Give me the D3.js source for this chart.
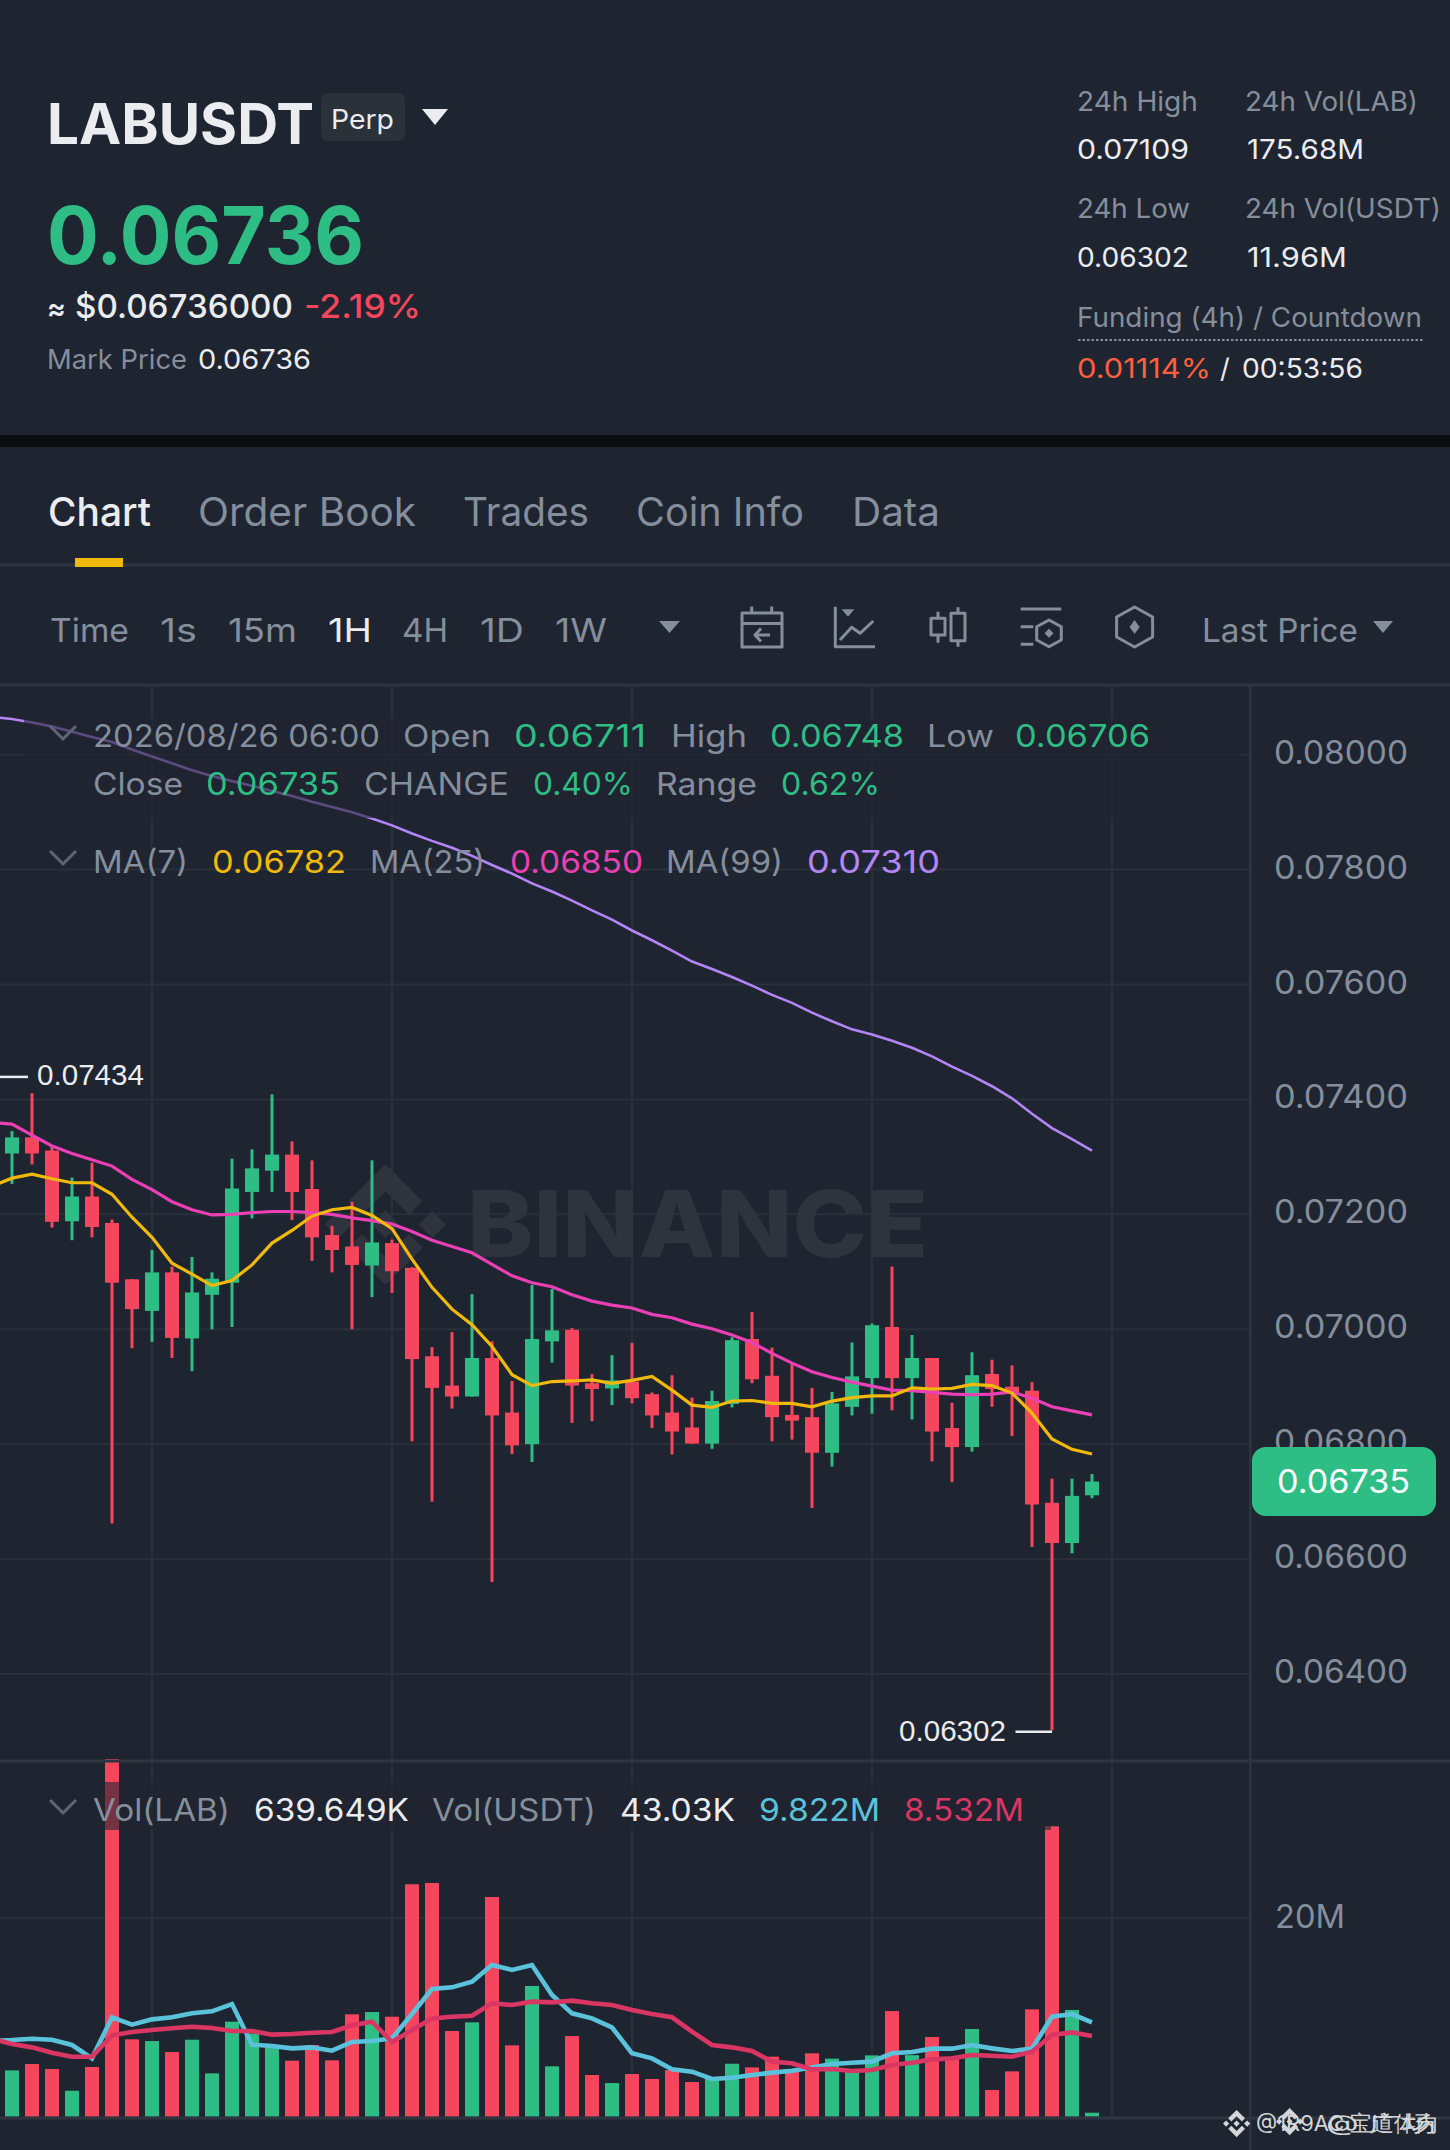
<!DOCTYPE html>
<html>
<head>
<meta charset="utf-8">
<title>LABUSDT</title>
<script src="https://cdn.jsdelivr.net/npm/d3@7"></script>
<style>
html, body { margin: 0; padding: 0; background: #1f2530; }
svg { display: block; }
text { font-family: Inter, "Noto Sans", sans-serif; }
.anno { font-family: "Liberation Sans", Arial, sans-serif; }
</style>
</head>
<body>
<div id="chart"></div>
<script>
// candles, oldest first
let candleOpen = [
	0.07306, 0.07334, 0.07311, 0.07188, 0.07231, 0.07185, 0.07087, 0.07032, 0.07099, 0.06984, 0.07060,
	0.07081, 0.07239, 0.07276, 0.07304, 0.07244, 0.07164, 0.07144, 0.07111, 0.07150, 0.07107, 0.06953,
	0.06902, 0.06883, 0.06950, 0.06855, 0.06800, 0.06979, 0.06999, 0.06906, 0.06897, 0.06909, 0.06887,
	0.06855, 0.06829, 0.06801, 0.06870, 0.06983, 0.06919, 0.06851, 0.06847, 0.06785, 0.06865, 0.06915,
	0.07004, 0.06915, 0.06950, 0.06828, 0.06795, 0.06922, 0.06900, 0.06893, 0.06698, 0.06628, 0.06711,
];
let candleHigh = [
	0.07345, 0.07411, 0.07318, 0.07264, 0.07290, 0.07191, 0.07087, 0.07138, 0.07109, 0.07126, 0.07099,
	0.07297, 0.07313, 0.07409, 0.07327, 0.07294, 0.07180, 0.07222, 0.07294, 0.07156, 0.07108, 0.06969,
	0.06995, 0.07061, 0.06979, 0.06910, 0.07077, 0.07070, 0.07002, 0.06922, 0.06955, 0.06976, 0.06890,
	0.06920, 0.06881, 0.06893, 0.06986, 0.07030, 0.06968, 0.06941, 0.06898, 0.06891, 0.06977, 0.07010,
	0.07109, 0.06990, 0.06950, 0.06872, 0.06960, 0.06947, 0.06937, 0.06908, 0.06740, 0.06740, 0.06748,
];
let candleLow = [
	0.07253, 0.07287, 0.07177, 0.07155, 0.07160, 0.06662, 0.06967, 0.06978, 0.06950, 0.06927, 0.07000,
	0.07004, 0.07193, 0.07239, 0.07190, 0.07119, 0.07099, 0.07000, 0.07056, 0.07063, 0.06805, 0.06700,
	0.06862, 0.06883, 0.06560, 0.06783, 0.06769, 0.06942, 0.06837, 0.06840, 0.06868, 0.06871, 0.06828,
	0.06782, 0.06801, 0.06792, 0.06864, 0.06906, 0.06805, 0.06808, 0.06689, 0.06761, 0.06850, 0.06853,
	0.06859, 0.06843, 0.06770, 0.06734, 0.06787, 0.06865, 0.06814, 0.06621, 0.06302, 0.06610, 0.06706,
];
let candleClose = [
	0.07334, 0.07306, 0.07187, 0.07231, 0.07178, 0.07081, 0.07035, 0.07099, 0.06985, 0.07064, 0.07088,
	0.07245, 0.07280, 0.07304, 0.07239, 0.07160, 0.07138, 0.07112, 0.07151, 0.07101, 0.06948, 0.06898,
	0.06883, 0.06950, 0.06850, 0.06798, 0.06983, 0.06998, 0.06902, 0.06896, 0.06911, 0.06880, 0.06850,
	0.06822, 0.06801, 0.06875, 0.06981, 0.06913, 0.06847, 0.06841, 0.06785, 0.06871, 0.06918, 0.07007,
	0.06915, 0.06950, 0.06822, 0.06795, 0.06920, 0.06896, 0.06890, 0.06695, 0.06628, 0.06710, 0.06735,
];

// volume in millions
let volume = [
	4.67, 5.31, 4.81, 2.62, 5.01, 36.06, 7.80, 7.63, 6.52, 7.76, 4.37,
	9.58, 8.40, 7.06, 5.65, 7.23, 5.68, 10.32, 10.55, 10.08, 23.43, 23.56,
	8.64, 9.51, 22.15, 7.19, 13.18, 5.08, 8.13, 4.20, 3.39, 4.30, 3.80,
	4.71, 3.50, 3.87, 5.34, 4.97, 6.05, 4.71, 6.39, 5.85, 4.54, 6.18,
	10.65, 6.20, 8.03, 5.88, 8.84, 2.69, 4.57, 10.82, 29.27, 10.76, 0.40,
];

// moving averages start one candle left of the picture
let ma7 = [
	0.07249, 0.07263, 0.07270, 0.07262, 0.07255, 0.07255, 0.07235, 0.07195, 0.07160, 0.07115, 0.07096, 0.07076,
	0.07085, 0.07112, 0.07150, 0.07172, 0.07197, 0.07208, 0.07212, 0.07198, 0.07175, 0.07122, 0.07073,
	0.07035, 0.07008, 0.06970, 0.06921, 0.06902, 0.06909, 0.06910, 0.06912, 0.06906, 0.06911, 0.06918,
	0.06894, 0.06868, 0.06864, 0.06875, 0.06876, 0.06871, 0.06871, 0.06865, 0.06875, 0.06881, 0.06884,
	0.06884, 0.06898, 0.06896, 0.06897, 0.06904, 0.06902, 0.06889, 0.06854, 0.06809, 0.06791, 0.06783,
];
let ma25 = [
	0.07360, 0.07357, 0.07338, 0.07319, 0.07306, 0.07295, 0.07284, 0.07261, 0.07243, 0.07222, 0.07208, 0.07199,
	0.07200, 0.07203, 0.07205, 0.07205, 0.07203, 0.07200, 0.07194, 0.07189, 0.07183, 0.07170, 0.07155,
	0.07144, 0.07133, 0.07113, 0.07093, 0.07081, 0.07074, 0.07060, 0.07049, 0.07042, 0.07037, 0.07026,
	0.07020, 0.07009, 0.07001, 0.06990, 0.06977, 0.06958, 0.06941, 0.06926, 0.06916, 0.06908, 0.06901,
	0.06894, 0.06893, 0.06890, 0.06887, 0.06886, 0.06887, 0.06891, 0.06880, 0.06865, 0.06858, 0.06851,
];
let ma99 = [
	0.08066, 0.08062, 0.08056, 0.08049, 0.08040, 0.08031, 0.08022, 0.08009, 0.07997, 0.07985, 0.07973, 0.07963,
	0.07954, 0.07946, 0.07937, 0.07928, 0.07918, 0.07909, 0.07900, 0.07889, 0.07877, 0.07863, 0.07850,
	0.07838, 0.07824, 0.07808, 0.07793, 0.07776, 0.07762, 0.07746, 0.07729, 0.07713, 0.07694, 0.07677,
	0.07659, 0.07640, 0.07627, 0.07613, 0.07598, 0.07582, 0.07568, 0.07551, 0.07536, 0.07522, 0.07513,
	0.07502, 0.07490, 0.07475, 0.07457, 0.07441, 0.07423, 0.07402, 0.07375, 0.07350, 0.07331, 0.07311,
];
let volMaFast = [
	7.66, 7.73, 7.86, 7.76, 7.23, 5.88, 10.02, 9.28, 9.81, 10.02, 10.42, 10.62,
	11.36, 7.26, 7.13, 6.89, 6.99, 6.65, 7.53, 7.63, 7.90, 10.35, 12.87,
	13.04, 13.61, 15.29, 14.79, 15.29, 12.27, 10.42, 9.91, 9.01, 6.39, 5.88,
	4.77, 4.54, 3.80, 3.93, 4.20, 4.44, 4.64, 4.97, 5.31, 5.44, 5.55,
	6.39, 6.52, 6.86, 6.86, 7.23, 6.89, 6.62, 6.86, 10.08, 10.35, 9.51,
];
let volMaSlow = [
	7.86, 7.33, 6.99, 6.45, 6.05, 6.05, 8.20, 8.54, 8.74, 8.91, 9.07, 8.94,
	8.64, 8.64, 8.27, 8.34, 8.47, 8.54, 9.21, 9.58, 7.53, 8.74, 9.91,
	10.08, 10.18, 11.43, 11.26, 11.60, 11.53, 11.70, 11.43, 11.26, 10.76, 10.35,
	10.02, 8.57, 7.23, 6.99, 6.62, 5.55, 5.38, 4.77, 4.81, 4.60, 4.71,
	5.21, 5.44, 5.78, 5.88, 6.22, 6.15, 6.05, 6.55, 8.23, 8.50, 8.13,
];

let priceTicks = [0.08, 0.078, 0.076, 0.074, 0.072, 0.07, 0.068, 0.066, 0.064];
let volumeTicks = [20];
let gridCandles = [7, 19, 31, 43, 55];
let lastPrice = 0.06735;
let leftHigh = 0.07434;
let lowestLow = 0.06302;

let intervals = ["Time", "1s", "15m", "1H", "4H", "1D", "1W"];
let tabs = ["Chart", "Order Book", "Trades", "Coin Info", "Data"];

let bg = "#1f2530";
let up = "#2ebd85";
let down = "#f6465d";
let textLight = "#eaecef";
let textGrey = "#848e9c";
let gridColor = "#2a303a";
let lineColor = "#2e3540";

let width = 1450;
let height = 2150;
let axisX = 1250;

let x = d3.scaleLinear().domain([0, 54]).range([12, 1092]);
let y = d3.scaleLinear().domain([0.064, 0.08]).range([1674, 754.7]);
let yVol = d3.scaleLinear().domain([0, 20]).range([2116.7, 1918.3]);

let svg = d3
	.select("#chart")
	.append("svg")
	.attr("width", width)
	.attr("height", height)
	.attr("viewBox", [0, 0, width, height]);

function txt(parent, xPos, base, str, size, fill, w, weight) {
	let t = parent
		.append("text")
		.attr("x", xPos - 1)
		.attr("y", base)
		.attr("font-size", size)
		.attr("fill", fill)
		.attr("font-weight", weight || 400)
		.text(str);
	// the app font is a bit narrower than Inter, fit to the measured width
	// (+2 makes up for the side bearings of the first and last glyph)
	if (w) t.attr("textLength", w + 2).attr("lengthAdjust", "spacingAndGlyphs");
	return t;
}

// ---- header ----
let head = svg.append("g");
txt(head, 48, 144, "LABUSDT", 56, textLight, 265, 700);
head.append("rect").attr("x", 321).attr("y", 93).attr("width", 84).attr("height", 48).attr("rx", 7).attr("fill", "#2b3139");
txt(head, 332, 129, "Perp", 27, textLight, 61);
head.append("path").attr("d", "M422 109H448L435 125Z").attr("fill", textLight);

txt(head, 48, 264, "0.06736", 80, up, 315, 700);
txt(head, 48, 318, "≈", 28, textLight, 0, 600);
txt(head, 76, 318, "$0.06736000", 33, textLight, 216, 500);
txt(head, 305, 318, "-2.19%", 33, down, 115, 500);
txt(head, 48, 369, "Mark Price", 27, textGrey, 138);
txt(head, 199, 369, "0.06736", 27, textLight, 111);

txt(head, 1078, 111, "24h High", 27, textGrey, 119);
txt(head, 1246, 111, "24h Vol(LAB)", 27, textGrey, 171);
txt(head, 1078, 159, "0.07109", 27, textLight, 110);
txt(head, 1248, 159, "175.68M", 27, textLight, 115);
txt(head, 1078, 218, "24h Low", 27, textGrey, 111);
txt(head, 1246, 218, "24h Vol(USDT)", 27, textGrey, 194);
txt(head, 1078, 267, "0.06302", 27, textLight, 110);
txt(head, 1248, 267, "11.96M", 27, textLight, 98);
txt(head, 1078, 327, "Funding (4h) / Countdown", 27, textGrey, 343);
head.append("line")
	.attr("x1", 1078).attr("x2", 1423).attr("y1", 340).attr("y2", 340)
	.attr("stroke", textGrey).attr("stroke-width", 2).attr("stroke-dasharray", "2.5,2");
txt(head, 1078, 378, "0.01114%", 27, "#ff5f3c", 132);
txt(head, 1221, 378, "/", 27, textLight);
txt(head, 1243, 378, "00:53:56", 27, textLight, 119);

head.append("rect").attr("x", 0).attr("y", 435).attr("width", width).attr("height", 12).attr("fill", "#0b0e11");

// ---- tabs ----
let tabX = [49, 199, 464, 637, 853];
let tabW = [101, 216, 124, 166, 86];
tabs.forEach((t, i) => txt(svg, tabX[i], 525.5, t, 39, i === 0 ? textLight : textGrey, tabW[i], i === 0 ? 500 : 400));
svg.append("rect").attr("x", 0).attr("y", 563.5).attr("width", width).attr("height", 3).attr("fill", lineColor);
svg.append("rect").attr("x", 75).attr("y", 558).attr("width", 48).attr("height", 9).attr("fill", "#f0b90b");

// ---- interval row ----
let ivX = [51, 161, 229, 329, 403, 481, 556];
let ivW = [77, 35, 67, 42, 44, 42, 50];
intervals.forEach((t, i) => txt(svg, ivX[i], 642, t, 33, t === "1H" ? textLight : textGrey, ivW[i]));
svg.append("path").attr("d", "M659 621H680L669.5 633Z").attr("fill", textGrey);
txt(svg, 1203, 642, "Last Price", 33, textGrey, 154);
svg.append("path").attr("d", "M1373 621H1393L1383 633Z").attr("fill", textGrey);

let icons = svg.append("g").attr("fill", "none").attr("stroke", textGrey).attr("stroke-width", 3).attr("stroke-linejoin", "round");
icons.append("path").attr("d", "M742 613H782V647H742ZM742 623.5H782M751.7 606.5V613M771.7 606.5V613M770 635H755.5M761 628.5L755 635L761 641.5");
icons.append("path").attr("d", "M835.3 606.7V646.7H875M840 640L851.7 627.3L860 633.3L873.3 621");
icons.append("path").attr("d", "M841.7 609.3H854.3L848 616.7Z").attr("fill", textGrey).attr("stroke", "none");
icons.append("path").attr("d", "M931 618.3H945V635H931ZM938 611.7V618.3M938 635V642.7M951 613.3H965V640.7H951ZM958 607.3V613.3M958 640.7V646.7");
icons.append("path").attr("d", "M1020.7 609H1061.3M1020.7 626.7H1033.3M1020.7 644.3H1033.3");
icons.append("path").attr("d", "M1049 620L1061.3 626.7V640L1049 646.7L1036.7 640V626.7Z");
icons.append("path").attr("d", "M1049 628.8L1053.5 633.3L1049 637.8L1044.5 633.3Z").attr("fill", textGrey).attr("stroke", "none");
icons.append("path").attr("d", "M1134.6 607L1152.6 617V637L1134.6 647L1116.6 637V617Z");
icons.append("path").attr("d", "M1134.6 620L1139.6 627L1134.6 634L1129.6 627Z").attr("fill", textGrey).attr("stroke", "none");

// ---- grid ----
let grid = svg.append("g").attr("stroke", gridColor).attr("stroke-width", 2);
grid.selectAll(".h")
	.data(priceTicks)
	.enter()
	.append("line")
	.attr("x1", 0).attr("x2", axisX)
	.attr("y1", (d) => y(d)).attr("y2", (d) => y(d));
grid.selectAll(".hv")
	.data(volumeTicks)
	.enter()
	.append("line")
	.attr("x1", 0).attr("x2", axisX)
	.attr("y1", (d) => yVol(d)).attr("y2", (d) => yVol(d));
grid.selectAll(".v")
	.data(gridCandles)
	.enter()
	.append("line")
	.attr("x1", (d) => x(d)).attr("x2", (d) => x(d))
	.attr("y1", 686).attr("y2", 2117);

// ---- Binance watermark ----
let logoPath = "M38.73 53.2l24.59-24.58 24.6 24.6 14.3-14.31L63.32 0 24.42 38.9zM0 63.31l14.3-14.31 14.31 14.31-14.31 14.3zM38.73 73.41l24.59 24.59 24.6-24.6 14.31 14.29-38.9 38.91-38.91-38.88zM98 63.31l14.3-14.31 14.31 14.3-14.31 14.32zM77.83 63.3L63.32 48.78 52.59 59.51l-1.24 1.23-2.54 2.54 14.51 14.52 14.51-14.51z";
svg.append("path")
	.attr("d", logoPath)
	.attr("transform", "translate(325,1164) scale(0.955)")
	.attr("fill", "#2e333d");
txt(svg, 468, 1257, "BINANCE", 92, "#2e333d", 459, 800);

// ---- candles ----
let candles = d3.range(candleOpen.length);
let isUp = (i) => candleClose[i] >= candleOpen[i];

svg.append("g")
	.selectAll("line")
	.data(candles)
	.enter()
	.append("line")
	.attr("x1", (i) => x(i)).attr("x2", (i) => x(i))
	.attr("y1", (i) => y(candleHigh[i])).attr("y2", (i) => y(candleLow[i]))
	.attr("stroke", (i) => (isUp(i) ? up : down))
	.attr("stroke-width", 3);

svg.append("g")
	.selectAll("rect")
	.data(candles)
	.enter()
	.append("rect")
	.attr("x", (i) => x(i) - 7)
	.attr("width", 14)
	.attr("y", (i) => y(Math.max(candleOpen[i], candleClose[i])))
	.attr("height", (i) => Math.abs(y(candleOpen[i]) - y(candleClose[i])))
	.attr("fill", (i) => (isUp(i) ? up : down));

// ---- volume bars ----
svg.append("g")
	.selectAll("rect")
	.data(candles)
	.enter()
	.append("rect")
	.attr("x", (i) => x(i) - 7)
	.attr("width", 14)
	.attr("y", (i) => yVol(volume[i]))
	.attr("height", (i) => yVol(0) - yVol(volume[i]))
	.attr("fill", (i) => (isUp(i) ? up : down));

// ---- moving averages ----
let priceLine = d3.line().x((d, i) => x(i - 1)).y((d) => y(d));
let volLine = d3.line().x((d, i) => x(i - 1)).y((d) => yVol(d));

[[ma99, "#b385f8", 2.6], [ma25, "#eb40b5", 3.2], [ma7, "#f0b90b", 3.2]].forEach((m) => {
	svg.append("path")
		.attr("d", priceLine(m[0]))
		.attr("fill", "none")
		.attr("stroke", m[1])
		.attr("stroke-width", m[2]);
});
[[volMaFast, "#5ac2da"], [volMaSlow, "#d93663"]].forEach((m) => {
	svg.append("path")
		.attr("d", volLine(m[0]))
		.attr("fill", "none")
		.attr("stroke", m[1])
		.attr("stroke-width", 4.6);
});

// the legends sit on a half transparent strip
svg.append("rect").attr("x", 24).attr("y", 719).attr("width", 1216).attr("height", 99).attr("fill", bg).attr("opacity", 0.6);
svg.append("rect").attr("x", 24).attr("y", 1782).attr("width", 1027).attr("height", 48).attr("fill", bg).attr("opacity", 0.6);

// ---- panel lines ----
svg.append("rect").attr("x", 0).attr("y", 683.5).attr("width", width).attr("height", 3).attr("fill", lineColor);
svg.append("rect").attr("x", 0).attr("y", 1759.5).attr("width", width).attr("height", 3).attr("fill", lineColor);
svg.append("rect").attr("x", 0).attr("y", 2116.5).attr("width", width).attr("height", 3).attr("fill", lineColor);
svg.append("rect").attr("x", axisX - 1).attr("y", 686).attr("width", 2.5).attr("height", height - 686).attr("fill", lineColor);

// ---- axes ----
svg.append("g")
	.attr("transform", "translate(" + axisX + ",0)")
	.call(d3.axisRight(y).tickValues(priceTicks).tickFormat(d3.format(".5f")).tickSize(0).tickPadding(24))
	.call((g) => g.select(".domain").remove())
	.call((g) => g.selectAll(".tick text")
		.attr("fill", textGrey)
		.attr("font-size", 32)
		.attr("font-family", "Inter, sans-serif")
		.attr("dy", 8.5)
		.attr("textLength", 134)
		.attr("lengthAdjust", "spacingAndGlyphs"));

svg.append("g")
	.attr("transform", "translate(" + axisX + ",0)")
	.call(d3.axisRight(yVol).tickValues(volumeTicks).tickFormat((d) => d + "M").tickSize(0).tickPadding(25))
	.call((g) => g.select(".domain").remove())
	.call((g) => g.selectAll(".tick text")
		.attr("fill", textGrey)
		.attr("font-size", 32)
		.attr("font-family", "Inter, sans-serif")
		.attr("dy", 9)
		.attr("textLength", 70)
		.attr("lengthAdjust", "spacingAndGlyphs"));

// last price tag
svg.append("rect")
	.attr("x", 1252).attr("width", 184)
	.attr("y", y(lastPrice) - 34.5).attr("height", 69)
	.attr("rx", 14)
	.attr("fill", up);
txt(svg, 1278, y(lastPrice) + 11, d3.format(".5f")(lastPrice), 32, "#ffffff", 131);

// high and low markers
svg.append("line")
	.attr("x1", 0).attr("x2", 28)
	.attr("y1", y(leftHigh) - 3).attr("y2", y(leftHigh) - 3)
	.attr("stroke", textLight).attr("stroke-width", 2.5);
txt(svg, 38, y(leftHigh) + 5, d3.format(".5f")(leftHigh), 29, textLight, 105).attr("class", "anno");
svg.append("line")
	.attr("x1", 1015.5).attr("x2", x(52))
	.attr("y1", y(lowestLow) + 1.5).attr("y2", y(lowestLow) + 1.5)
	.attr("stroke", textLight).attr("stroke-width", 2.5);
txt(svg, 900, y(lowestLow) + 11, d3.format(".5f")(lowestLow), 29, textLight, 105).attr("class", "anno");

// ---- legend text ----
let chevron = (yTop) => {
	svg.append("path")
		.attr("d", "M50 " + yTop + "L63 " + (yTop + 13) + "L76 " + yTop)
		.attr("fill", "none")
		.attr("stroke", "#5e6673")
		.attr("stroke-width", 3);
};
chevron(726);
chevron(851);
chevron(1800);

txt(svg, 94, 746.5, "2026/08/26 06:00", 31, textGrey, 285);
txt(svg, 404, 746.5, "Open", 31, textGrey, 86);
txt(svg, 515, 746.5, "0.06711", 31, up, 130);
txt(svg, 672, 746.5, "High", 31, textGrey, 74);
txt(svg, 771, 746.5, "0.06748", 31, up, 132);
txt(svg, 928, 746.5, "Low", 31, textGrey, 65);
txt(svg, 1016, 746.5, "0.06706", 31, up, 133);

txt(svg, 94, 794.5, "Close", 31, textGrey, 88);
txt(svg, 207, 794.5, "0.06735", 31, up, 132);
txt(svg, 365, 794.5, "CHANGE", 31, textGrey, 143);
txt(svg, 534, 794.5, "0.40%", 31, up, 98);
txt(svg, 657, 794.5, "Range", 31, textGrey, 99);
txt(svg, 782, 794.5, "0.62%", 31, up, 97);

txt(svg, 94, 872.5, "MA(7)", 31, textGrey, 93);
txt(svg, 213, 872.5, "0.06782", 31, "#f0b90b", 132);
txt(svg, 371, 872.5, "MA(25)", 31, textGrey, 113);
txt(svg, 511, 872.5, "0.06850", 31, "#eb40b5", 131);
txt(svg, 667, 872.5, "MA(99)", 31, textGrey, 115);
txt(svg, 808, 872.5, "0.07310", 31, "#b385f8", 131);

txt(svg, 94, 1820.5, "Vol(LAB)", 31, textGrey, 135);
txt(svg, 255, 1820.5, "639.649K", 31, textLight, 153);
txt(svg, 433, 1820.5, "Vol(USDT)", 31, textGrey, 162);
txt(svg, 621, 1820.5, "43.03K", 31, textLight, 113);
txt(svg, 760, 1820.5, "9.822M", 31, "#5ac2da", 119);
txt(svg, 905, 1820.5, "8.532M", 31, "#d93663", 118);

// ---- square watermark, two stamps on top of each other ----
let stamp = svg.append("g").attr("fill", "#d4d6d9");
stamp.append("path").attr("d", logoPath).attr("transform", "translate(1223,2110) scale(0.215)");
stamp.append("path").attr("d", logoPath).attr("transform", "translate(1276,2108) scale(0.215)");
stamp.append("text")
	.attr("x", 1256).attr("y", 2131).attr("font-size", 22)
	.attr("font-family", "'Noto Sans CJK SC', sans-serif")
	.attr("textLength", 182).attr("lengthAdjust", "spacingAndGlyphs")
	.text("@1R9AC 宝道体内");
stamp.append("text")
	.attr("x", 1326).attr("y", 2131).attr("font-size", 22)
	.attr("font-family", "'Noto Sans CJK SC', sans-serif")
	.attr("textLength", 110).attr("lengthAdjust", "spacingAndGlyphs")
	.text("@ 广场");
</script>
</body>
</html>
